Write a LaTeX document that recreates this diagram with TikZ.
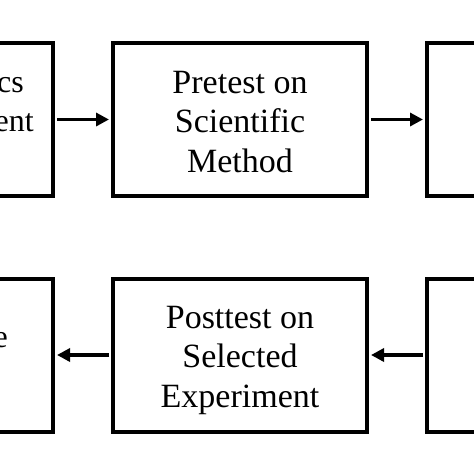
\documentclass[tikz,border=0pt]{standalone}
\usepackage{fontspec}
\setmainfont{Liberation Serif}
\usetikzlibrary{arrows.meta}
\begin{document}
\begin{tikzpicture}[x=1pt,y=-1pt,
  box/.style={draw=black, line width=4pt, minimum width=254pt, minimum height=153pt, inner sep=0pt, fill=white},
  txt/.style={align=center, font=\fontsize{34pt}{39.5pt}\selectfont, inner sep=0pt},
  edgetxt/.style={font=\fontsize{32pt}{37pt}\selectfont, inner sep=0pt, anchor=base east},
  arr/.style={line width=3.5pt, shorten >=2pt, shorten <=2pt, -{Triangle[length=13pt,width=13pt]}}]
\clip (0,0) rectangle (474,474);
\fill[white] (0,0) rectangle (474,474);
% top row
\node[box] (a1) at (-74,119.5) {};
\node[box] (a2) at (240,119.5) {};
\node[box] (a3) at (554,119.5) {};
% bottom row
\node[box] (b1) at (-74,355) {};
\node[box] (b2) at (240,355) {};
\node[box] (b3) at (554,355) {};
% texts
\node[txt] (a2t) at (240,124.6) {\strut Pretest on\\\strut Scientific\\\strut Method};
\node[txt] (b2t) at (240,359.6) {\strut Posttest on\\\strut Selected\\\strut Experiment};
\node[edgetxt] (a1t) at (24,92) {cs};
\node[edgetxt] (a1u) at (34,131.5) {ent};
\node[edgetxt] (b1t) at (8,347) {e};
% arrows
\draw[arr] (a1) -- (a2);
\draw[arr] (a2) -- (a3);
\draw[arr] (b3) -- (b2);
\draw[arr] (b2) -- (b1);
\end{tikzpicture}
\end{document}
